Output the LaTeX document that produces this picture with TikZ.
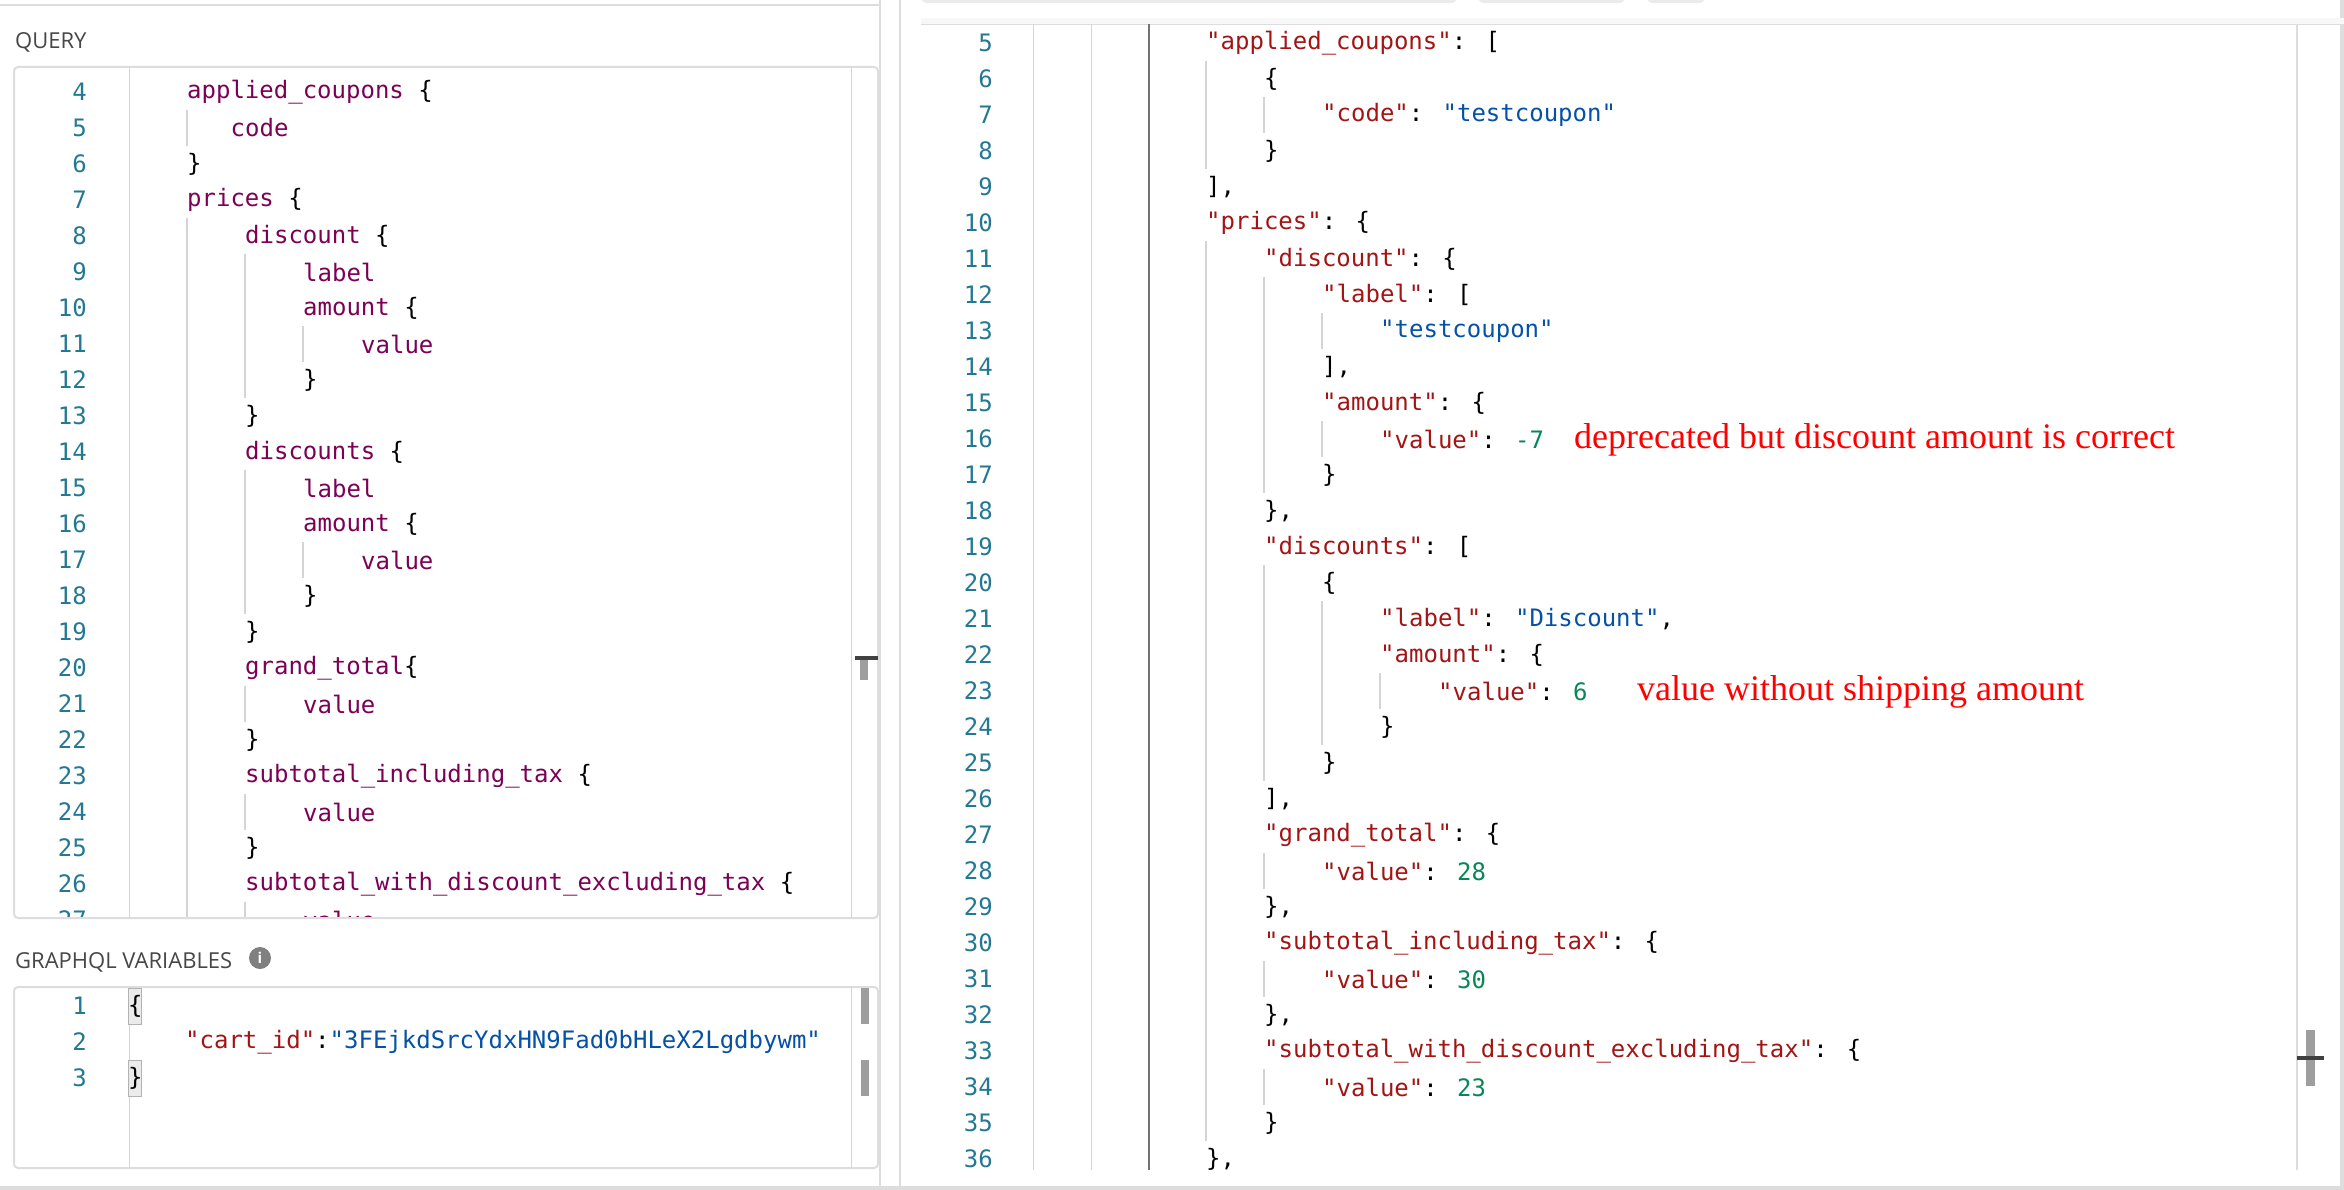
\documentclass[tikz,border=0pt]{standalone}
\usepackage{fontspec}
\setmainfont{Liberation Serif}
\newfontfamily\cmono{DejaVu Sans Mono}
\newfontfamily\uisans{Open Sans}
\definecolor{qk}{HTML}{7C0056}
\definecolor{jk}{HTML}{A31515}
\definecolor{js}{HTML}{0451A5}
\definecolor{jn}{HTML}{098658}
\definecolor{ln}{HTML}{237893}
\definecolor{guide}{HTML}{D4D4D4}
\definecolor{edge}{HTML}{DDDDDD}
\tikzset{
  code/.style={font=\cmono\fontsize{24}{24}\selectfont,anchor=west,inner sep=0pt},
  lnum/.style={font=\cmono\fontsize{24}{24}\selectfont,anchor=east,inner sep=0pt,text=ln},
  hdr/.style={font=\uisans\fontsize{22}{22}\selectfont,anchor=west,inner sep=0pt,text=black!72},
  note/.style={font=\fontsize{36}{36}\selectfont,anchor=west,inner sep=0pt,text=red},
  gl/.style={draw=guide,line width=1.2pt},
}
\newcommand\ql[4]{\node[code] (#1) at ({187+#2*14.5},{92+(#3-4)*36}) {#4};}
\newcommand\qn[2]{\node[lnum] (#1) at (87,{92+(#2-4)*36}) {#2};}
\newcommand\qg[3]{\draw[gl] ({187+#1*14.5},{92+(#2-4)*36-18}) -- ({187+#1*14.5},{92+(#3-4)*36+18});}
\newcommand\jl[4]{\node[code] (#1) at ({1206+#2*14.5},{43+(#3-5)*36}) {#4};}
\newcommand\jn[2]{\node[lnum] (#1) at (993,{43+(#2-5)*36}) {#2};}
\newcommand\jg[3]{\draw[gl] ({1206+#1*14.5},{43+(#2-5)*36-18}) -- ({1206+#1*14.5},{43+(#3-5)*36+18});}
\begin{document}
\begin{tikzpicture}[x=1pt,y=-1pt]
\useasboundingbox (0,0) rectangle (2344,1190);
\fill[white] (0,0) rectangle (2344,1190);
% panel frames
\draw[edge,line width=2pt] (0,5) -- (880,5);
\draw[edge,line width=1.5pt] (900,0) -- (900,1190);
\draw[edge,line width=1.5pt] (880,0) -- (880,1188);
\fill[edge] (0,1186) rectangle (2344,1190);
\fill[edge] (2340,0) rectangle (2344,1190);
% right top tabs
\fill[black!8,rounded corners=6pt] (921,-10) rectangle (1457,3);
\fill[black!8,rounded corners=6pt] (1478,-10) rectangle (1625,3);
\fill[black!8,rounded corners=6pt] (1647,-10) rectangle (1705,3);
\fill[black!3] (921,18) rectangle (2344,24);
\draw[edge] (921,24) -- (2344,24);
% right gutter lines
\draw[guide,line width=1pt] (1033,24) -- (1033,1170);
\draw[guide,line width=1pt] (1091,24) -- (1091,1170);
\draw[black!55,line width=1.5pt] (1149,24) -- (1149,1170);
\draw[edge,line width=1.5pt] (2297,24) -- (2297,1170);
\fill[black!38] (2306,1030) rectangle (2315,1086);
\fill[black!75] (2297,1056) rectangle (2324,1060);

% QUERY panel
\node[hdr] (qh) at (15,42) {QUERY};
\draw[edge,line width=2pt,rounded corners=4pt] (14,67) rectangle (878,918);
\draw[guide,line width=1pt] (129,67) -- (129,918);
\draw[guide,line width=1pt] (851,67) -- (851,918);
\fill[black!75] (855,656) rectangle (878,660);
\fill[black!38] (860,660) rectangle (868,680);
\begin{scope}
\clip (15,68) rectangle (877,916);
\qn{qn4}{4}\qn{qn5}{5}\qn{qn6}{6}\qn{qn7}{7}\qn{qn8}{8}\qn{qn9}{9}\qn{qn10}{10}\qn{qn11}{11}
\qn{qn12}{12}\qn{qn13}{13}\qn{qn14}{14}\qn{qn15}{15}\qn{qn16}{16}\qn{qn17}{17}\qn{qn18}{18}
\qn{qn19}{19}\qn{qn20}{20}\qn{qn21}{21}\qn{qn22}{22}\qn{qn23}{23}\qn{qn24}{24}\qn{qn25}{25}
\qn{qn26}{26}\qn{qn27}{27}
\qg{0}{5}{5}\qg{0}{8}{28}
\qg{4}{9}{12}\qg{4}{15}{18}\qg{4}{21}{21}\qg{4}{24}{24}\qg{4}{27}{28}
\qg{8}{11}{11}\qg{8}{17}{17}
\ql{q4}{0}{4}{\textcolor{qk}{applied\_coupons} \{}
\ql{q5}{3}{5}{\textcolor{qk}{code}}
\ql{q6}{0}{6}{\}}
\ql{q7}{0}{7}{\textcolor{qk}{prices} \{}
\ql{q8}{4}{8}{\textcolor{qk}{discount} \{}
\ql{q9}{8}{9}{\textcolor{qk}{label}}
\ql{q10}{8}{10}{\textcolor{qk}{amount} \{}
\ql{q11}{12}{11}{\textcolor{qk}{value}}
\ql{q12}{8}{12}{\}}
\ql{q13}{4}{13}{\}}
\ql{q14}{4}{14}{\textcolor{qk}{discounts} \{}
\ql{q15}{8}{15}{\textcolor{qk}{label}}
\ql{q16}{8}{16}{\textcolor{qk}{amount} \{}
\ql{q17}{12}{17}{\textcolor{qk}{value}}
\ql{q18}{8}{18}{\}}
\ql{q19}{4}{19}{\}}
\ql{q20}{4}{20}{\textcolor{qk}{grand\_total}\{}
\ql{q21}{8}{21}{\textcolor{qk}{value}}
\ql{q22}{4}{22}{\}}
\ql{q23}{4}{23}{\textcolor{qk}{subtotal\_including\_tax} \{}
\ql{q24}{8}{24}{\textcolor{qk}{value}}
\ql{q25}{4}{25}{\}}
\ql{q26}{4}{26}{\textcolor{qk}{subtotal\_with\_discount\_excluding\_tax} \{}
\ql{q27}{8}{27}{\textcolor{qk}{value}}
\end{scope}

% VARIABLES panel
\node[hdr] (vh) at (15,962) {GRAPHQL VARIABLES};
\fill[black!50] (260,958) circle (11);
\node[font=\uisans\bfseries\fontsize{15}{15}\selectfont,text=white,inner sep=0pt] (vi) at (260,958) {i};
\draw[edge,line width=2pt,rounded corners=4pt] (14,987) rectangle (878,1168);
\draw[guide,line width=1pt] (129,987) -- (129,1168);
\draw[guide,line width=1pt] (851,987) -- (851,1168);
\fill[black!38] (861,988) rectangle (869,1024);
\fill[black!38] (861,1060) rectangle (869,1096);
\filldraw[fill=black!8,draw=black!30] (128,988) rectangle (141,1024);
\filldraw[fill=black!8,draw=black!30] (128,1060) rectangle (141,1096);
\node[lnum] (v1) at (87,1006) {1};
\node[lnum] (v2) at (87,1042) {2};
\node[lnum] (v3) at (87,1078) {3};
\node[code] (vl1) at (128,1006) {\{};
\node[code] (vl2) at (185,1042) {\textcolor{jk}{"cart\_id"}:\textcolor{js}{"3FEjkdSrcYdxHN9Fad0bHLeX2Lgdbywm"}};
\node[code] (vl3) at (128,1078) {\}};

% RESULT panel
\jn{jn5}{5}\jn{jn6}{6}\jn{jn7}{7}\jn{jn8}{8}\jn{jn9}{9}\jn{jn10}{10}\jn{jn11}{11}\jn{jn12}{12}
\jn{jn13}{13}\jn{jn14}{14}\jn{jn15}{15}\jn{jn16}{16}\jn{jn17}{17}\jn{jn18}{18}\jn{jn19}{19}
\jn{jn20}{20}\jn{jn21}{21}\jn{jn22}{22}\jn{jn23}{23}\jn{jn24}{24}\jn{jn25}{25}\jn{jn26}{26}
\jn{jn27}{27}\jn{jn28}{28}\jn{jn29}{29}\jn{jn30}{30}\jn{jn31}{31}\jn{jn32}{32}\jn{jn33}{33}
\jn{jn34}{34}\jn{jn35}{35}\jn{jn36}{36}
\jg{0}{6}{8}\jg{0}{11}{35}
\jg{4}{7}{7}\jg{4}{12}{17}\jg{4}{20}{25}\jg{4}{28}{28}\jg{4}{31}{31}\jg{4}{34}{34}
\jg{8}{13}{13}\jg{8}{16}{16}\jg{8}{21}{24}
\jg{12}{23}{23}
\jl{j5}{0}{5}{\textcolor{jk}{"applied\_coupons"}: [}
\jl{j6}{4}{6}{\{}
\jl{j7}{8}{7}{\textcolor{jk}{"code"}: \textcolor{js}{"testcoupon"}}
\jl{j8}{4}{8}{\}}
\jl{j9}{0}{9}{],}
\jl{j10}{0}{10}{\textcolor{jk}{"prices"}: \{}
\jl{j11}{4}{11}{\textcolor{jk}{"discount"}: \{}
\jl{j12}{8}{12}{\textcolor{jk}{"label"}: [}
\jl{j13}{12}{13}{\textcolor{js}{"testcoupon"}}
\jl{j14}{8}{14}{],}
\jl{j15}{8}{15}{\textcolor{jk}{"amount"}: \{}
\jl{j16}{12}{16}{\textcolor{jk}{"value"}: \textcolor{jn}{-7}}
\jl{j17}{8}{17}{\}}
\jl{j18}{4}{18}{\},}
\jl{j19}{4}{19}{\textcolor{jk}{"discounts"}: [}
\jl{j20}{8}{20}{\{}
\jl{j21}{12}{21}{\textcolor{jk}{"label"}: \textcolor{js}{"Discount"},}
\jl{j22}{12}{22}{\textcolor{jk}{"amount"}: \{}
\jl{j23}{16}{23}{\textcolor{jk}{"value"}: \textcolor{jn}{6}}
\jl{j24}{12}{24}{\}}
\jl{j25}{8}{25}{\}}
\jl{j26}{4}{26}{],}
\jl{j27}{4}{27}{\textcolor{jk}{"grand\_total"}: \{}
\jl{j28}{8}{28}{\textcolor{jk}{"value"}: \textcolor{jn}{28}}
\jl{j29}{4}{29}{\},}
\jl{j30}{4}{30}{\textcolor{jk}{"subtotal\_including\_tax"}: \{}
\jl{j31}{8}{31}{\textcolor{jk}{"value"}: \textcolor{jn}{30}}
\jl{j32}{4}{32}{\},}
\jl{j33}{4}{33}{\textcolor{jk}{"subtotal\_with\_discount\_excluding\_tax"}: \{}
\jl{j34}{8}{34}{\textcolor{jk}{"value"}: \textcolor{jn}{23}}
\jl{j35}{4}{35}{\}}
\jl{j36}{0}{36}{\},}
% annotations
\node[note] (n1) at (1574,440) {deprecated but discount amount is correct};
\node[note] (n2) at (1637,692) {value without shipping amount};
\end{tikzpicture}
\end{document}
